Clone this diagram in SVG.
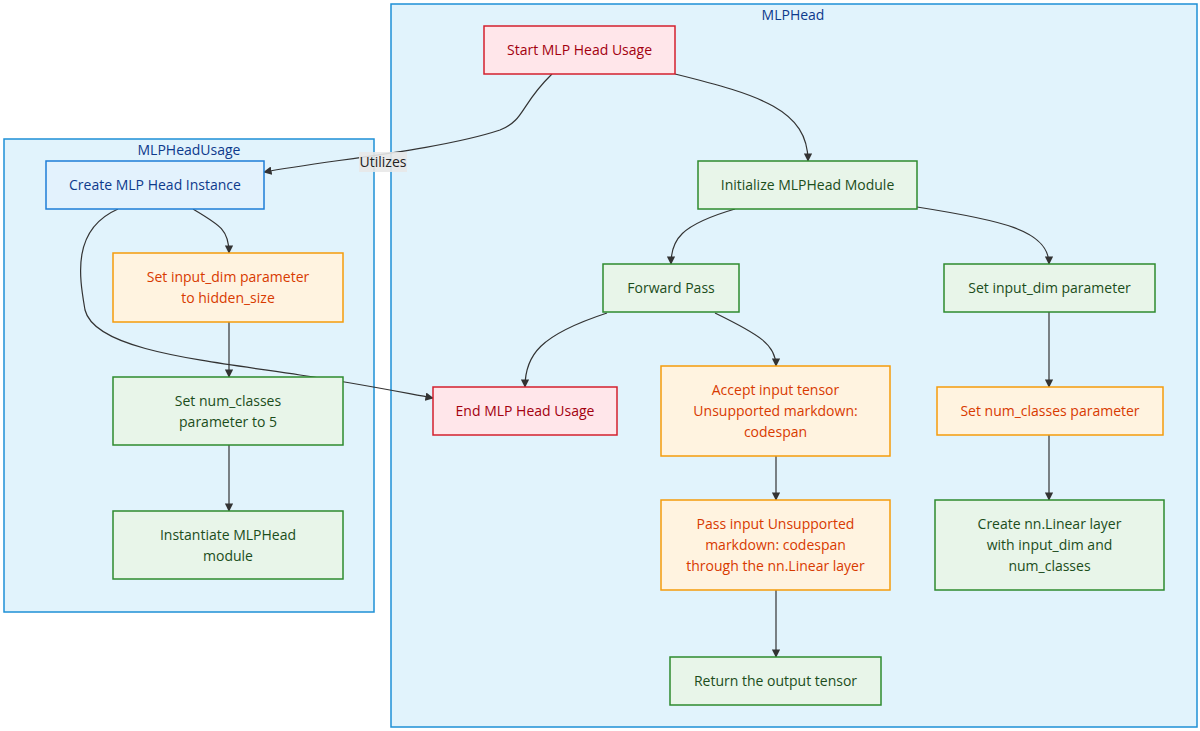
<svg xmlns="http://www.w3.org/2000/svg" width="1200" height="731" viewBox="0 0 1200 731">
<style>
text{font-family:"Open Sans","DejaVu Sans",sans-serif;font-size:14px;text-anchor:middle}
.cl{fill:#e1f3fc;stroke:#1e90d6;stroke-width:1.5}
.ct{fill:#0d3a8c}
.r rect{fill:#ffe6ea;stroke:#d3202e;stroke-width:1.5}.r text{fill:#a3000f}
.b rect{fill:#e3f2fd;stroke:#1e7ed6;stroke-width:1.5}.b text{fill:#0d3a8c}
.g rect{fill:#e8f5e9;stroke:#2e8b2e;stroke-width:1.5}.g text{fill:#1b4d1b}
.o rect{fill:#fff3e0;stroke:#f59c0b;stroke-width:1.5}.o text{fill:#d83a00}
.e path{fill:none;stroke:#333;stroke-width:1.2;marker-end:url(#a)}
</style>
<defs><marker id="a" viewBox="0 0 10 10" refX="9" refY="5" markerWidth="7" markerHeight="7" orient="auto"><path d="M0,0L10,5L0,10z" fill="#333"/></marker></defs>
<rect width="1200" height="731" fill="#fff"/>
<g id="MLPHead"><rect class="cl" x="391" y="4" width="806" height="723"/><text class="ct" x="793" y="20">MLPHead</text></g>
<g id="MLPHeadUsage"><rect class="cl" x="4" y="139" width="370" height="473"/><text class="ct" x="189" y="155">MLPHeadUsage</text></g>
<g class="e" id="edges">
<path d="M552,74C520,105 525,120 500,130C440,150 330,160 264,172"/>
<path d="M675,74C760,95 808,110 808,161"/>
<path d="M193,209C220,225 229,230 229,253"/>
<path d="M118,209C70,230 80,280 85,310C95,350 200,360 300,375C350,382 400,392 433,398"/>
<path d="M735,209C680,225 671,240 671,264"/>
<path d="M917,207C1000,220 1049,230 1049,264"/>
<path d="M229,322V377"/>
<path d="M607,313C540,335 525,355 525,387"/>
<path d="M715,313C760,335 776,345 776,366"/>
<path d="M1049,312V387"/>
<path d="M229,445V511"/>
<path d="M776,456V500"/>
<path d="M776,590V657"/>
<path d="M1049,435V500"/>
<rect x="359" y="152" width="48" height="20" fill="#e8e8e8" opacity="0.9" stroke="none"/>
<text x="383" y="167" style="fill:#222">Utilizes</text>
</g>
<g id="start" class="r"><rect x="484" y="26" width="191" height="48"/><text x="579.5" y="55">Start MLP Head Usage</text></g>
<g id="create" class="b"><rect x="46" y="161" width="218" height="48"/><text x="155" y="190">Create MLP Head Instance</text></g>
<g id="init" class="g"><rect x="698" y="161" width="219" height="48"/><text x="807.5" y="190">Initialize MLPHead Module</text></g>
<g id="setin1" class="o"><rect x="113" y="253" width="230" height="69"/><text x="228" y="282">Set input_dim parameter</text><text x="228" y="303">to hidden_size</text></g>
<g id="fwd" class="g"><rect x="603" y="264" width="136" height="48"/><text x="671" y="293">Forward Pass</text></g>
<g id="setin2" class="g"><rect x="944" y="264" width="211" height="48"/><text x="1049.5" y="293">Set input_dim parameter</text></g>
<g id="setnc1" class="g"><rect x="113" y="377" width="230" height="68"/><text x="228" y="406">Set num_classes</text><text x="228" y="427">parameter to 5</text></g>
<g id="end" class="r"><rect x="433" y="387" width="184" height="48"/><text x="525" y="416">End MLP Head Usage</text></g>
<g id="accept" class="o"><rect x="661" y="366" width="229" height="90"/><text x="775.5" y="395">Accept input tensor</text><text x="775.5" y="416">Unsupported markdown:</text><text x="775.5" y="437">codespan</text></g>
<g id="setnc2" class="o"><rect x="937" y="387" width="226" height="48"/><text x="1050" y="416">Set num_classes parameter</text></g>
<g id="inst" class="g"><rect x="113" y="511" width="230" height="68"/><text x="228" y="540">Instantiate MLPHead</text><text x="228" y="561">module</text></g>
<g id="pass" class="o"><rect x="661" y="500" width="229" height="90"/><text x="775.5" y="529">Pass input Unsupported</text><text x="775.5" y="550">markdown: codespan</text><text x="775.5" y="571">through the nn.Linear layer</text></g>
<g id="linear" class="g"><rect x="935" y="500" width="229" height="90"/><text x="1049.5" y="529">Create nn.Linear layer</text><text x="1049.5" y="550">with input_dim and</text><text x="1049.5" y="571">num_classes</text></g>
<g id="ret" class="g"><rect x="670" y="657" width="211" height="48"/><text x="775.5" y="686">Return the output tensor</text></g>
</svg>
